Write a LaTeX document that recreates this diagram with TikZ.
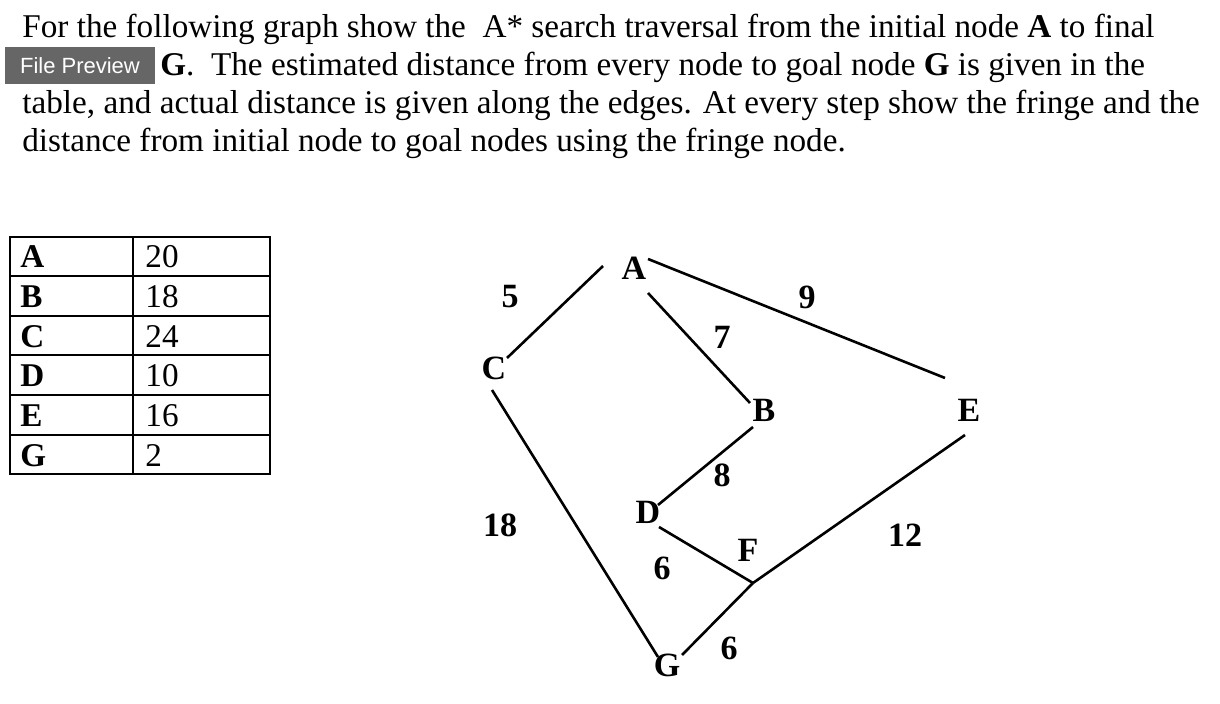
\documentclass[tikz,border=0pt]{standalone}
\usepackage{fontspec}
\setmainfont{Liberation Serif}
\newfontfamily\badgefont{Liberation Sans}
\begin{document}
\begin{tikzpicture}[x=0.5pt,y=-0.5pt,
  txt/.style={anchor=base west,inner sep=0,font=\fontsize{16.6}{19}\selectfont},
  lbl/.style={inner sep=0,font=\fontsize{17}{19}\selectfont\bfseries},
  edge/.style={line width=1.3pt}]
\useasboundingbox (0,0) rectangle (1220,704);
\node[txt] (l1) at (22,38) {For the following graph show the \ A* search traversal from the initial node \textbf{A} to final};
\node[fill=black!60,text=white,minimum width=75pt,minimum height=18.5pt,inner sep=0,font=\badgefont\fontsize{11}{12}\selectfont] (badge) at (80,66) {File Preview};
\node[txt] (l2) at (160,76) {\textbf{G}. \ The estimated distance from every node to goal node \textbf{G} is given in the};
\node[txt] (l3) at (22,114) {table, and actual distance is given along the edges. At every step show the fringe and the};
\node[txt] (l4) at (22,152) {distance from initial node to goal nodes using the fringe node.};
% table
\draw[line width=0.6pt] (10,237) rectangle (270,474);
\draw[line width=0.6pt] (133,237) -- (133,474);
\foreach \y in {276,316,355,395,435} \draw[line width=0.6pt] (10,\y) -- (270,\y);
\foreach \l/\v/\y in {A/20/257,B/18/297,C/24/337,D/10/376,E/16/416,G/2/456}{
  \node[txt,anchor=west,font=\fontsize{16.6}{19}\selectfont\bfseries] (t\l) at (20,\y) {\l};
  \node[txt,anchor=west] (v\l) at (145,\y) {\v};
}
% graph nodes
\node[lbl] (A) at (634,268) {A};
\node[lbl] (C) at (494,368) {C};
\node[lbl] (B) at (764,410) {B};
\node[lbl] (E) at (969,410) {E};
\node[lbl] (D) at (648,512) {D};
\node[lbl] (F) at (748,550) {F};
\node[lbl] (G) at (667,665) {G};
\coordinate (Fj) at (753,583);
\coordinate (ac1) at (603,266); \coordinate (ac2) at (507,358);
\coordinate (ab1) at (648,293); \coordinate (ab2) at (750,403);
\coordinate (ae1) at (648,259); \coordinate (ae2) at (945,378);
\coordinate (cg1) at (492,390); \coordinate (cg2) at (658,657);
\coordinate (bd1) at (753,427); \coordinate (bd2) at (658,505);
\coordinate (df1) at (659,527);
\coordinate (ef1) at (965,435);
\coordinate (fg2) at (682,655);
\draw[edge] (ac1) -- (ac2);
\draw[edge] (ab1) -- (ab2);
\draw[edge] (ae1) -- (ae2);
\draw[edge] (cg1) -- (cg2);
\draw[edge] (bd1) -- (bd2);
\draw[edge] (df1) -- (Fj);
\draw[edge] (ef1) -- (Fj);
\draw[edge] (Fj) -- (fg2);
% edge labels
\node[lbl] (w5) at (510,297) {5};
\node[lbl] (w9) at (807,297) {9};
\node[lbl] (w7) at (722,337) {7};
\node[lbl] (w8) at (722,475) {8};
\node[lbl] (w18) at (500,525) {18};
\node[lbl] (w6a) at (662,568) {6};
\node[lbl] (w12) at (905,535) {12};
\node[lbl] (w6b) at (729,648) {6};
\end{tikzpicture}
\end{document}
